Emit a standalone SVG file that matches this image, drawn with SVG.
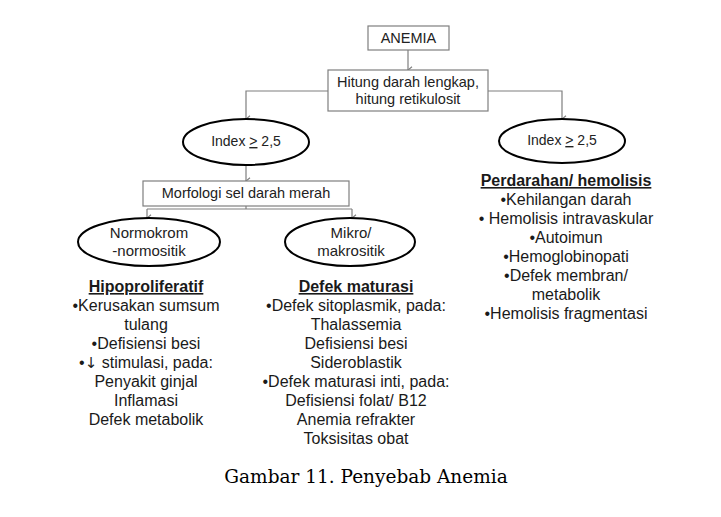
<svg xmlns="http://www.w3.org/2000/svg" width="721" height="517" viewBox="0 0 721 517">
<style>
.box{fill:#fff;stroke:#7f7f7f;stroke-width:1.2}
.ell{fill:#fff;stroke:#000;stroke-width:2}
.con{fill:none;stroke:#7f7f7f;stroke-width:1.2}
.t{font-family:"Liberation Sans",Arial,sans-serif;font-size:14.5px;fill:#222;text-anchor:middle}
.e{font-family:"Liberation Sans",Arial,sans-serif;font-size:15px;fill:#222;text-anchor:middle}
.i{font-family:"Liberation Sans",Arial,sans-serif;font-size:14px;fill:#222;text-anchor:middle}
.b{font-family:"Liberation Sans",Arial,sans-serif;font-size:16px;fill:#1a1a1a;text-anchor:middle}
.h{font-weight:bold;text-decoration:underline}
.cap{font-family:"DejaVu Serif","Liberation Serif",serif;font-size:18.5px;fill:#000;text-anchor:middle}
</style>
<defs>
<marker id="arr" viewBox="0 0 10 10" refX="5" refY="9" markerWidth="8" markerHeight="8" markerUnits="userSpaceOnUse" orient="auto-start-reverse">
<path d="M1,4 L5,9 L9,4" fill="none" stroke="#7f7f7f" stroke-width="1.4"/>
</marker>
</defs>
<rect width="721" height="517" fill="#fff"/>
<g id="connectors">
<path class="con" d="M408,50 V70" marker-end="url(#arr)"/>
<path class="con" d="M328,91 H246 V119" marker-end="url(#arr)"/>
<path class="con" d="M488,91 H562 V119" marker-end="url(#arr)"/>
<path class="con" d="M246,165 V181" marker-end="url(#arr)"/>
<path class="con" d="M246,206 V209"/>
<path class="con" d="M147,209 H352"/>
<path class="con" d="M147,209 V218" marker-end="url(#arr)"/>
<path class="con" d="M352,209 V218" marker-end="url(#arr)"/>
</g>
<g id="anemia">
<rect class="box" x="368" y="26" width="81" height="24"/>
<text class="t" x="408.5" y="43">ANEMIA</text>
</g>
<g id="hitung">
<rect class="box" x="328" y="70" width="160" height="41"/>
<text class="t" x="408" y="87">Hitung darah lengkap,</text>
<text class="t" x="408" y="104">hitung retikulosit</text>
</g>
<g id="index-left">
<ellipse class="ell" cx="246" cy="142" rx="63" ry="23"/>
<text class="i" x="246" y="146">Index <tspan text-decoration="underline">&gt;</tspan> 2,5</text>
</g>
<g id="index-right">
<ellipse class="ell" cx="562" cy="141" rx="63" ry="22"/>
<text class="i" x="562" y="145">Index <tspan text-decoration="underline">&gt;</tspan> 2,5</text>
</g>
<g id="morfologi">
<rect class="box" x="143" y="181" width="206" height="25"/>
<text class="t" x="246" y="198">Morfologi sel darah merah</text>
</g>
<g id="normokrom">
<ellipse class="ell" cx="149" cy="242" rx="71" ry="24"/>
<text class="e" x="149" y="238">Normokrom</text>
<text class="e" x="149" y="256">-normositik</text>
</g>
<g id="mikro">
<ellipse class="ell" cx="350" cy="242" rx="65" ry="24"/>
<text class="e" x="351" y="238">Mikro/</text>
<text class="e" x="351" y="256">makrositik</text>
</g>
<g id="hipoproliferatif">
<text class="b" x="146" y="292"><tspan class="h">Hipoproliferatif</tspan></text>
<text class="b" x="146" y="311">•Kerusakan sumsum</text>
<text class="b" x="146" y="330">tulang</text>
<text class="b" x="146" y="349">•Defisiensi besi</text>
<text class="b" x="146" y="368">•<tspan font-family="DejaVu Sans" font-size="15px">↓</tspan> stimulasi, pada:</text>
<text class="b" x="146" y="387">Penyakit ginjal</text>
<text class="b" x="146" y="406">Inflamasi</text>
<text class="b" x="146" y="425">Defek metabolik</text>
</g>
<g id="defek-maturasi">
<text class="b" x="356" y="292"><tspan class="h">Defek maturasi</tspan></text>
<text class="b" x="356" y="311">•Defek sitoplasmik, pada:</text>
<text class="b" x="356" y="330">Thalassemia</text>
<text class="b" x="356" y="349">Defisiensi besi</text>
<text class="b" x="356" y="368">Sideroblastik</text>
<text class="b" x="356" y="387">•Defek maturasi inti, pada:</text>
<text class="b" x="356" y="406">Defisiensi folat/ B12</text>
<text class="b" x="356" y="425">Anemia refrakter</text>
<text class="b" x="356" y="444">Toksisitas obat</text>
</g>
<g id="perdarahan">
<text class="b" x="566" y="186"><tspan class="h">Perdarahan/ hemolisis</tspan></text>
<text class="b" x="566" y="205">•Kehilangan darah</text>
<text class="b" x="566" y="224">• Hemolisis intravaskular</text>
<text class="b" x="566" y="243">•Autoimun</text>
<text class="b" x="566" y="262">•Hemoglobinopati</text>
<text class="b" x="566" y="281">•Defek membran/</text>
<text class="b" x="566" y="300">metabolik</text>
<text class="b" x="566" y="319">•Hemolisis fragmentasi</text>
</g>
<text class="cap" x="366" y="483">Gambar 11. Penyebab Anemia</text>
</svg>
